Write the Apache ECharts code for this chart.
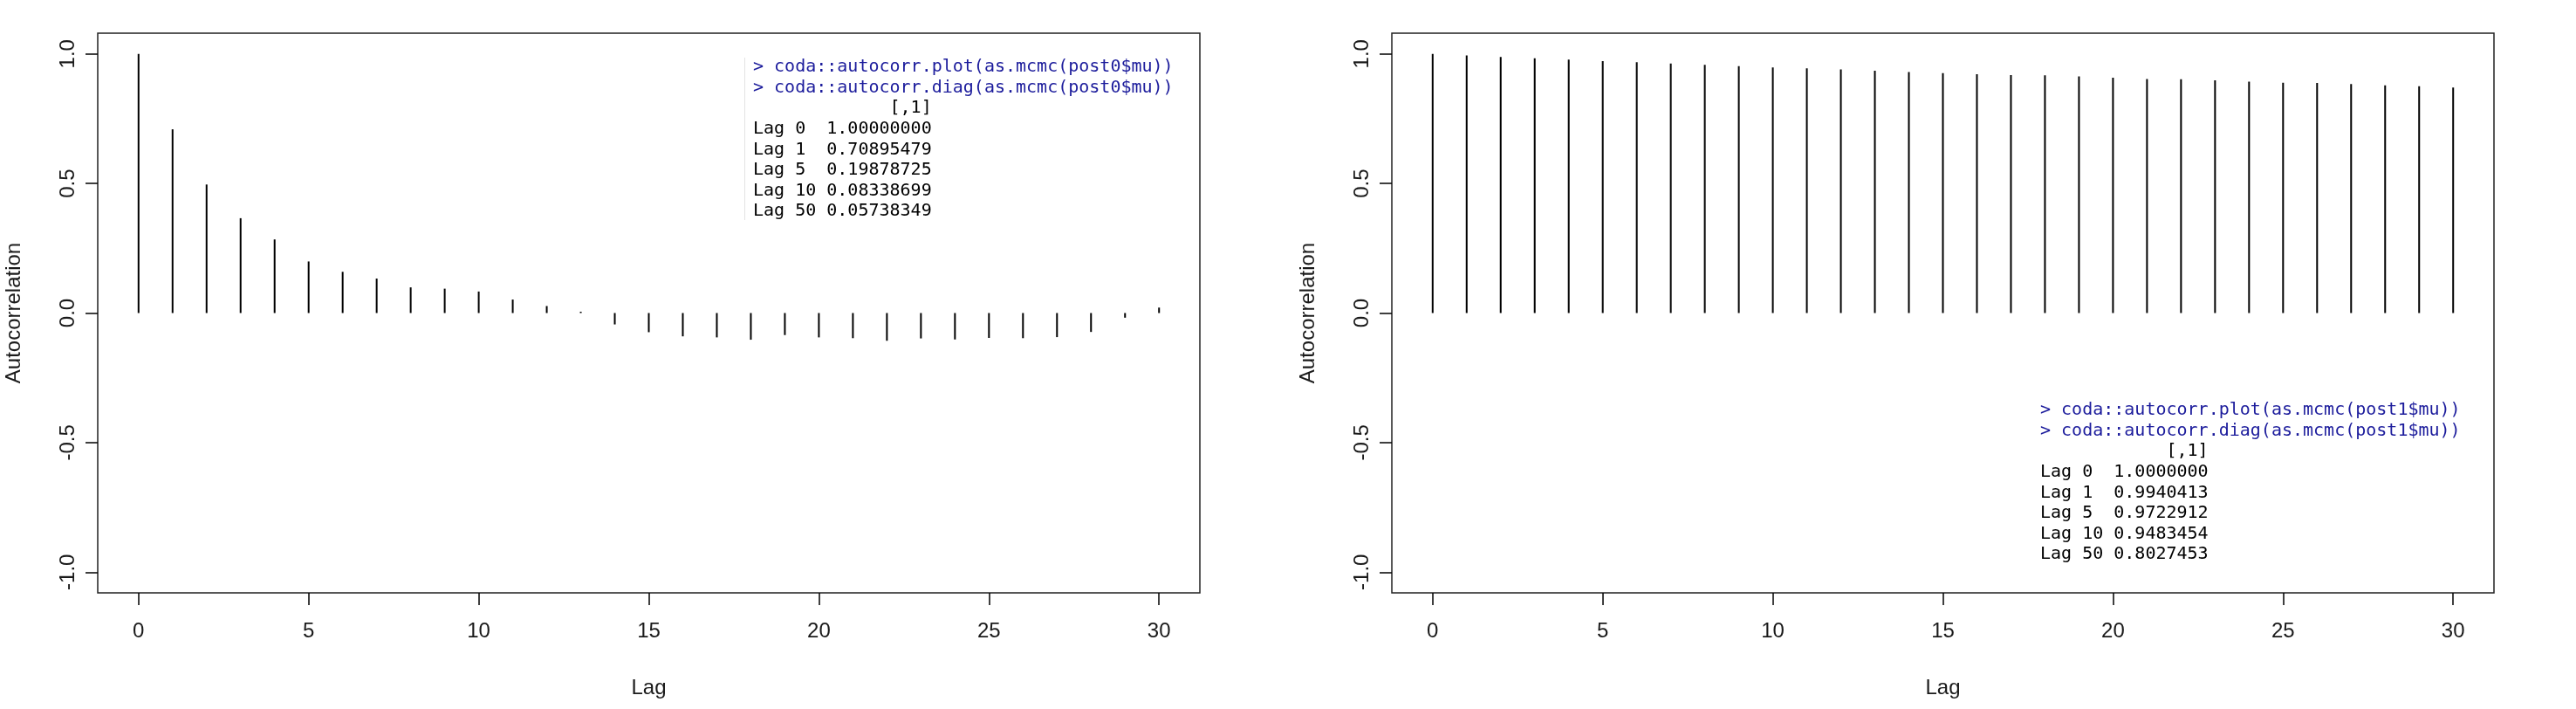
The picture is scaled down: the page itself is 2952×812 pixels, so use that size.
<!DOCTYPE html>
<html>
<head>
<meta charset="utf-8">
<script src="https://cdn.jsdelivr.net/npm/echarts@6/dist/echarts.min.js"></script>
<style>
html,body{margin:0;padding:0;background:#fff;}
#chart{width:2952px;height:812px;}
</style>
</head>
<body>
<div id="chart"></div>
<script>
// ---- data ----
const lags = [0,1,2,3,4,5,6,7,8,9,10,11,12,13,14,15,16,17,18,19,20,21,22,23,24,25,26,27,28,29,30];
const acfPost0 = [1.0,0.709,0.496,0.366,0.284,0.199,0.159,0.133,0.099,0.094,0.083,0.052,0.027,0.005,-0.044,-0.074,-0.090,-0.094,-0.103,-0.085,-0.094,-0.097,-0.107,-0.098,-0.102,-0.096,-0.097,-0.093,-0.073,-0.018,0.021];
const acfPost1 = [1.0,0.994,0.988,0.983,0.978,0.972,0.968,0.963,0.958,0.953,0.948,0.944,0.940,0.935,0.930,0.926,0.922,0.918,0.917,0.913,0.908,0.903,0.902,0.898,0.893,0.889,0.888,0.884,0.879,0.875,0.870];
const xTicks = [0,5,10,15,20,25,30];
const yTicks = [-1,-0.5,0,0.5,1];
const xTitle = 'Lag';
const yTitle = 'Autocorrelation';
const cmd0 = ['> coda::autocorr.plot(as.mcmc(post0$mu))','> coda::autocorr.diag(as.mcmc(post0$mu))'];
const out0 = ['             [,1]','Lag 0  1.00000000','Lag 1  0.70895479','Lag 5  0.19878725','Lag 10 0.08338699','Lag 50 0.05738349'];
const cmd1 = ['> coda::autocorr.plot(as.mcmc(post1$mu))','> coda::autocorr.diag(as.mcmc(post1$mu))'];
const out1 = ['            [,1]','Lag 0  1.0000000','Lag 1  0.9940413','Lag 5  0.9722912','Lag 10 0.9483454','Lag 50 0.8027453'];

// ---- chart ----
const FONT = 'Liberation Sans, Arial, sans-serif';
const MONO = 'DejaVu Sans Mono, Liberation Mono, monospace';
const TXT = '#1a1a1a';

function mkX(idx){
  return {
    type:'value', gridIndex:idx, min:-1.2, max:31.2,
    name:xTitle, nameLocation:'middle', nameGap:97,
    nameTextStyle:{fontFamily:FONT,fontSize:24,color:TXT},
    axisLine:{show:false,onZero:false},
    splitLine:{show:false},
    axisTick:{show:true,length:14,customValues:xTicks,lineStyle:{color:'#000',width:1.5}},
    axisLabel:{customValues:xTicks,margin:32,fontFamily:FONT,fontSize:24,color:TXT}
  };
}
function mkY(idx){
  return {
    type:'value', gridIndex:idx, min:-1.08, max:1.08,
    name:yTitle, nameLocation:'middle', nameGap:84, nameRotate:90,
    nameTextStyle:{fontFamily:FONT,fontSize:24,color:TXT},
    axisLine:{show:false,onZero:false},
    splitLine:{show:false},
    axisTick:{show:true,length:14,customValues:yTicks,lineStyle:{color:'#000',width:1.5}},
    axisLabel:{customValues:yTicks,rotate:90,margin:22,fontFamily:FONT,fontSize:24,color:TXT,
      formatter:v=>Number(v).toFixed(1)}
  };
}
function mkSeries(idx, vals){
  return {
    type:'custom', xAxisIndex:idx, yAxisIndex:idx,
    data: lags.map((l,i)=>[l, vals[i]]),
    renderItem:(params, api)=>{
      const x = api.value(0), y = api.value(1);
      const p0 = api.coord([x,0]);
      const p1 = api.coord([x,y]);
      return {type:'line', shape:{x1:p0[0],y1:p0[1],x2:p1[0],y2:p1[1]},
        style:{stroke:'#000',lineWidth:2}};
    },
    silent:true, animation:false
  };
}
function textBlock(x, y0, cmds, outs){
  const els = [];
  const lh = 23.6;
  cmds.forEach((t,i)=>els.push({type:'text', left:x, top:y0 + i*lh - 12,
    style:{text:t, font:'20px '+MONO, fill:'#1c1c9c'}}));
  outs.forEach((t,i)=>els.push({type:'text', left:x, top:y0 + (i+cmds.length)*lh - 12,
    style:{text:t, font:'20px '+MONO, fill:'#000'}}));
  return els;
}

const chart = echarts.init(document.getElementById('chart'), null, {renderer:'canvas'});
chart.setOption({
  backgroundColor:'#fff',
  animation:false,
  grid:[
    {left:112, top:38, width:1263, height:641, show:true, borderColor:'#222', borderWidth:1.5, backgroundColor:'transparent'},
    {left:1595, top:38, width:1263, height:641, show:true, borderColor:'#222', borderWidth:1.5, backgroundColor:'transparent'}
  ],
  xAxis:[mkX(0), mkX(1)],
  yAxis:[mkY(0), mkY(1)],
  series:[mkSeries(0, acfPost0), mkSeries(1, acfPost1)],
  graphic:[
    {type:'line', shape:{x1:853.5,y1:66,x2:853.5,y2:252}, style:{stroke:'#e2e2e2',lineWidth:1}},
    ...textBlock(863, 79, cmd0, out0),
    ...textBlock(2338, 472, cmd1, out1)
  ]
});
</script>
</body>
</html>
